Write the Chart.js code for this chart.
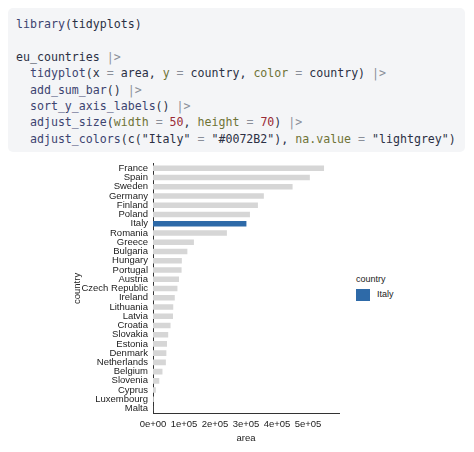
<!DOCTYPE html>
<html>
<head>
<meta charset="utf-8">
<script src="https://cdn.jsdelivr.net/npm/chart.js@4"></script>
<style>
  body { margin: 0; width: 474px; height: 452px; background: #fff; position: relative; overflow: hidden; }
  pre {
    position: absolute; left: 8px; top: 8px; width: 441px; height: 128px; margin: 0;
    padding: 8px 8px; background: #f4f5f7; border-radius: 5px;
    font-family: "DejaVu Sans Mono", monospace; font-size: 11.6px; line-height: 16.4px; color: #2b3044;
  }
  .f { color: #3d4470; } .a { color: #6f7336; } .n { color: #9a2a35; } .o { color: #8a8f99; }
  #wrap { position: absolute; left: 0; top: 156px; width: 345px; height: 289px; }
  #leg { position: absolute; left: 356px; top: 274px; font-family: "Liberation Sans", Arial, sans-serif; font-size: 9px; color: #222; }
  #leg .sw { display: inline-block; width: 14px; height: 12px; background: #2e6aa8; vertical-align: middle; margin-right: 7px; }
</style>
</head>
<body>
<pre><span class="f">library</span>(tidyplots)

eu_countries <span class="o">|&gt;</span>
  <span class="f">tidyplot</span>(x <span class="o">=</span> area, <span class="a">y</span> <span class="o">=</span> country, <span class="a">color</span> <span class="o">=</span> country) <span class="o">|&gt;</span>
  <span class="f">add_sum_bar</span>() <span class="o">|&gt;</span>
  <span class="f">sort_y_axis_labels</span>() <span class="o">|&gt;</span>
  <span class="f">adjust_size</span>(<span class="a">width</span> <span class="o">=</span> <span class="n">50</span>, <span class="a">height</span> <span class="o">=</span> <span class="n">70</span>) <span class="o">|&gt;</span>
  <span class="f">adjust_colors</span>(c("Italy" <span class="o">=</span> "#0072B2"), <span class="a">na.value</span> <span class="o">=</span> "lightgrey")</pre>
<div id="wrap"><canvas id="c"></canvas></div>
<div id="leg"><div style="margin-bottom:5px">country</div><span class="sw"></span>Italy</div>
<script>
const countries = ["France","Spain","Sweden","Germany","Finland","Poland","Italy","Romania","Greece","Bulgaria","Hungary","Portugal","Austria","Czech Republic","Ireland","Lithuania","Latvia","Croatia","Slovakia","Estonia","Denmark","Netherlands","Belgium","Slovenia","Cyprus","Luxembourg","Malta"];
const area = [551695,505990,450295,357588,338424,312696,301338,238397,131957,110879,93028,92212,83879,78867,70273,65300,64559,56594,49035,45227,43094,41543,30528,20273,9251,2586,316];
const xTicks = [0,100000,200000,300000,400000,500000];
const xTickLabels = ["0e+00","1e+05","2e+05","3e+05","4e+05","5e+05"];

const font = { family: "Liberation Sans, Arial, sans-serif", size: 9.5 };
new Chart(document.getElementById('c'), {
    type: 'bar',
    data: {
        labels: countries,
        datasets: [{
            data: area,
            backgroundColor: countries.map(c => c === "Italy" ? '#2e6aa8' : '#d6d6d6'),
            barPercentage: 0.6,
            categoryPercentage: 1,
        }],
    },
    options: {
        indexAxis: 'y',
        responsive: true,
        maintainAspectRatio: false,
        animation: false,
        layout: { padding: { left: 70, top: 4, right: 6, bottom: 0 } },
        plugins: { legend: { display: false }, tooltip: { enabled: false } },
        scales: {
            x: {
                min: 0, max: 600000,
                afterBuildTicks: ax => { ax.ticks = xTicks.map(v => ({ value: v })); },
                ticks: { color: '#222', font, padding: 2, maxRotation: 0, callback: (v, i) => xTickLabels[i] },
                grid: { display: false, drawTicks: true, tickLength: 3, color: '#333' },
                border: { color: '#333' },
                title: { display: true, text: 'area', color: '#222', font, padding: 1 },
            },
            y: {
                afterFit: ax => { ax.width = 83; },
                ticks: { color: '#222', font, padding: 2, autoSkip: false },
                grid: { display: false, drawTicks: true, tickLength: 3, color: '#333' },
                border: { color: '#333' },
                title: { display: false },
            }
        }
    },
    plugins: [{
        id: 'ytitle',
        afterDraw(chart) {
            const c = chart.ctx, a = chart.chartArea;
            c.save();
            c.translate(80, (a.top + a.bottom) / 2);
            c.rotate(-Math.PI / 2);
            c.font = "9.5px Liberation Sans, Arial, sans-serif";
            c.fillStyle = '#222';
            c.textAlign = 'center';
            c.fillText('country', 0, 0);
            c.restore();
        }
    }]
});
</script>
</body>
</html>
